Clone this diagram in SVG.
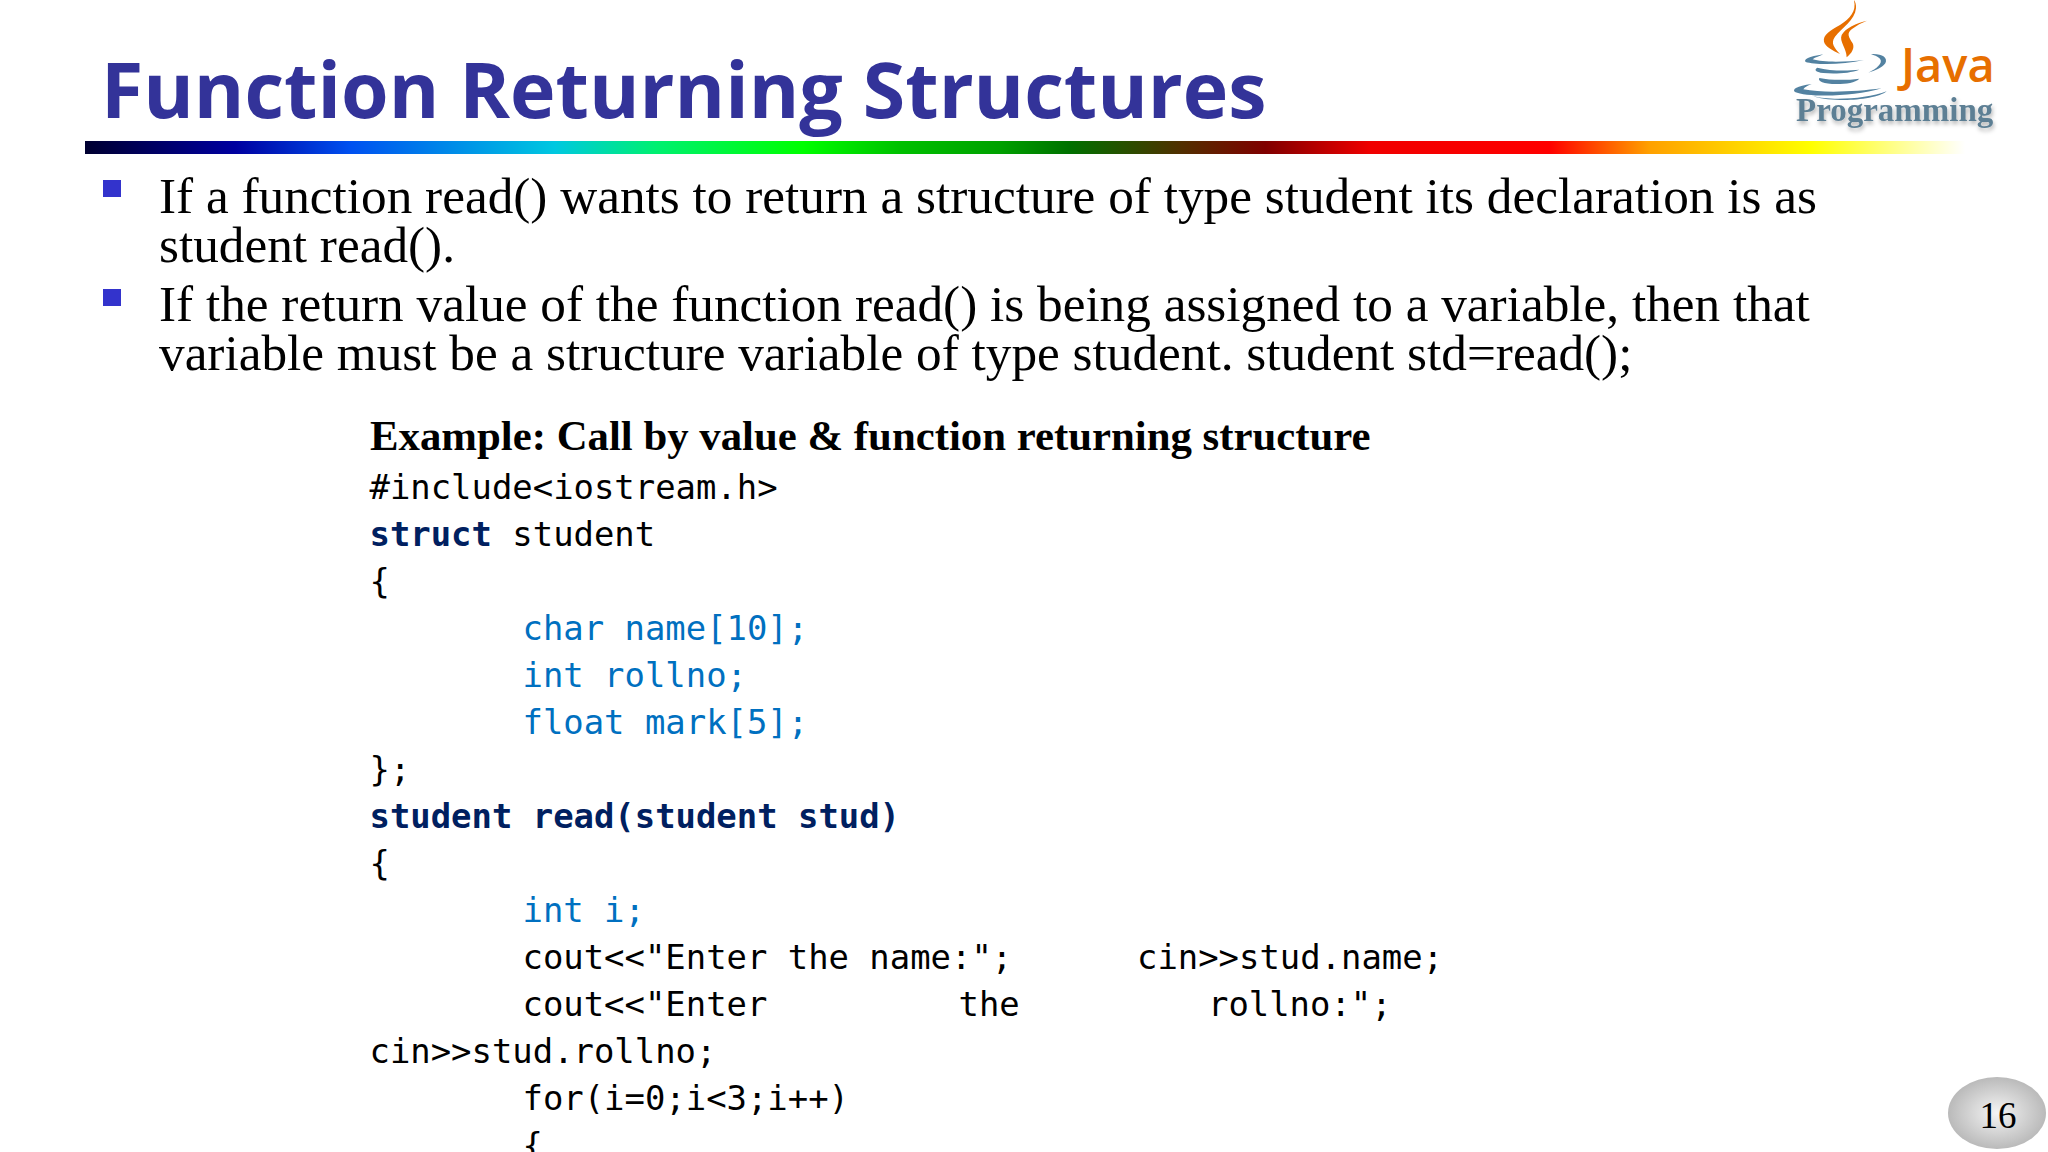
<svg xmlns="http://www.w3.org/2000/svg" width="2048" height="1152" viewBox="0 0 2048 1152">
<style>
.b{font-family:"Liberation Serif",serif;font-size:51.25px;fill:#000}
.m{font-family:"DejaVu Sans Mono",monospace;font-size:33.9px;fill:#000;white-space:pre}
.k{fill:#0070c0}
.d{fill:#002060;font-weight:700}
</style>
<defs>
<linearGradient id="bar" x1="85" x2="1965" y1="0" y2="0" gradientUnits="userSpaceOnUse">
<stop offset="0" stop-color="#000030"/>
<stop offset="0.08" stop-color="#0000a0"/>
<stop offset="0.141" stop-color="#0050f0"/>
<stop offset="0.25" stop-color="#00c8e0"/>
<stop offset="0.304" stop-color="#00f070"/>
<stop offset="0.382" stop-color="#00ff00"/>
<stop offset="0.434" stop-color="#00c000"/>
<stop offset="0.487" stop-color="#00a000"/>
<stop offset="0.524" stop-color="#007000"/>
<stop offset="0.582" stop-color="#503000"/>
<stop offset="0.628" stop-color="#800000"/>
<stop offset="0.684" stop-color="#f00000"/>
<stop offset="0.779" stop-color="#ff0000"/>
<stop offset="0.832" stop-color="#ffa000"/>
<stop offset="0.918" stop-color="#ffff00"/>
<stop offset="1" stop-color="#ffffff"/>
</linearGradient>
<radialGradient id="pg" cx="0.5" cy="0.5" r="0.55">
<stop offset="0" stop-color="#f4f4f4"/>
<stop offset="1" stop-color="#b4b4b4"/>
</radialGradient>
<filter id="s" x="-5%" y="-20%" width="110%" height="150%"><feDropShadow dx="1" dy="3" stdDeviation="2" flood-color="#000" flood-opacity="0.3"/></filter>
</defs>
<rect width="2048" height="1152" fill="#fff"/>
<text id="title" x="101" y="118" font-family="'Open Sans',sans-serif" font-weight="700" font-size="77" fill="#333399">Function Returning Structures</text>
<rect id="rule" x="85" y="141" width="1880" height="13" fill="url(#bar)"/>
<g id="logo">
<g transform="translate(1740 0) scale(0.3333)">
<path d="M342 0C350 35 330 55 300 75C270 92 248 105 252 125C255 140 280 152 300 162C285 145 270 130 285 110C305 85 345 60 348 25C349 15 346 5 342 0Z" fill="#e76f00"/>
<path d="M381 62C350 68 315 85 305 105C297 125 320 145 320 172C335 160 345 145 338 130C325 110 320 100 335 88C350 76 365 68 381 62Z" fill="#e76f00"/>
<g fill="#5382a1">
<path d="M250 163C205 170 190 178 197 186C225 195 310 195 372 180C320 186 250 188 218 178C225 172 240 168 250 163Z"/>
<path d="M393 162C425 160 445 172 436 190C425 205 405 212 385 218C410 205 430 190 420 176C412 168 402 166 393 162Z"/>
<path d="M232 203C222 208 225 216 250 219C285 222 330 220 358 209C320 213 270 213 232 203Z"/>
<path d="M238 234C232 244 250 252 290 252C320 252 345 248 358 236C320 241 270 241 238 234Z"/>
<path d="M215 252C170 258 155 268 165 276C200 292 340 292 425 265C350 275 250 280 190 268C195 260 205 256 215 252Z"/>
<path d="M220 289C270 302 380 298 440 274C420 292 350 302 300 300C265 299 235 295 220 289Z"/>
</g>
</g>
<text x="1901" y="82" font-family="'Open Sans',sans-serif" font-weight="600" font-size="47" fill="#e76f00">Java</text>
<text x="1796" y="121" font-family="'Liberation Serif',serif" font-weight="700" font-size="33" fill="#5d7f94" filter="url(#s)">Programming</text>
</g>
<g id="bullets">
<rect x="103" y="180" width="18" height="17" fill="#3333cc"/>
<rect x="103" y="289" width="18" height="17" fill="#3333cc"/>
<text class="b" x="159" y="213">If a function read() wants to return a structure of type student its declaration is as</text>
<text class="b" x="159" y="262">student read().</text>
<text class="b" x="159" y="321">If the return value of the function read() is being assigned to a variable, then that</text>
<text class="b" x="159" y="370">variable must be a structure variable of type student. student std=read();</text>
</g>
<g id="code">
<text x="370" y="450" font-family="'Liberation Serif',serif" font-weight="700" font-size="42.8">Example: Call by value &amp; function returning structure</text>
<text class="m" x="369.500" y="499">#include&lt;iostream.h&gt;</text>
<text class="m" x="369.500" y="546"><tspan class="d">struct</tspan> student</text>
<text class="m" x="369.500" y="593">{</text>
<text class="m k" x="522.500" y="640">char name[10];</text>
<text class="m k" x="522.500" y="687">int rollno;</text>
<text class="m k" x="522.500" y="734">float mark[5];</text>
<text class="m" x="369.500" y="781">};</text>
<text class="m d" x="369.500" y="828">student read(student stud)</text>
<text class="m" x="369.500" y="875">{</text>
<text class="m k" x="522.500" y="922">int i;</text>
<text class="m" x="522.500" y="969">cout&lt;&lt;"Enter the name:";</text>
<text class="m" x="1137" y="969">cin&gt;&gt;stud.name;</text>
<text class="m" x="522.500" y="1016">cout&lt;&lt;"Enter</text>
<text class="m" x="958.500" y="1016">the</text>
<text class="m" x="1208" y="1016">rollno:";</text>
<text class="m" x="369.500" y="1063">cin&gt;&gt;stud.rollno;</text>
<text class="m" x="522.500" y="1110">for(i=0;i&lt;3;i++)</text>
<text class="m" x="522.500" y="1157">{</text>
</g>
<g id="page">
<ellipse cx="1997" cy="1113" rx="49" ry="36" fill="url(#pg)"/>
<text x="1998" y="1128" text-anchor="middle" font-family="'Liberation Serif',serif" font-size="37">16</text>
</g>
</svg>
